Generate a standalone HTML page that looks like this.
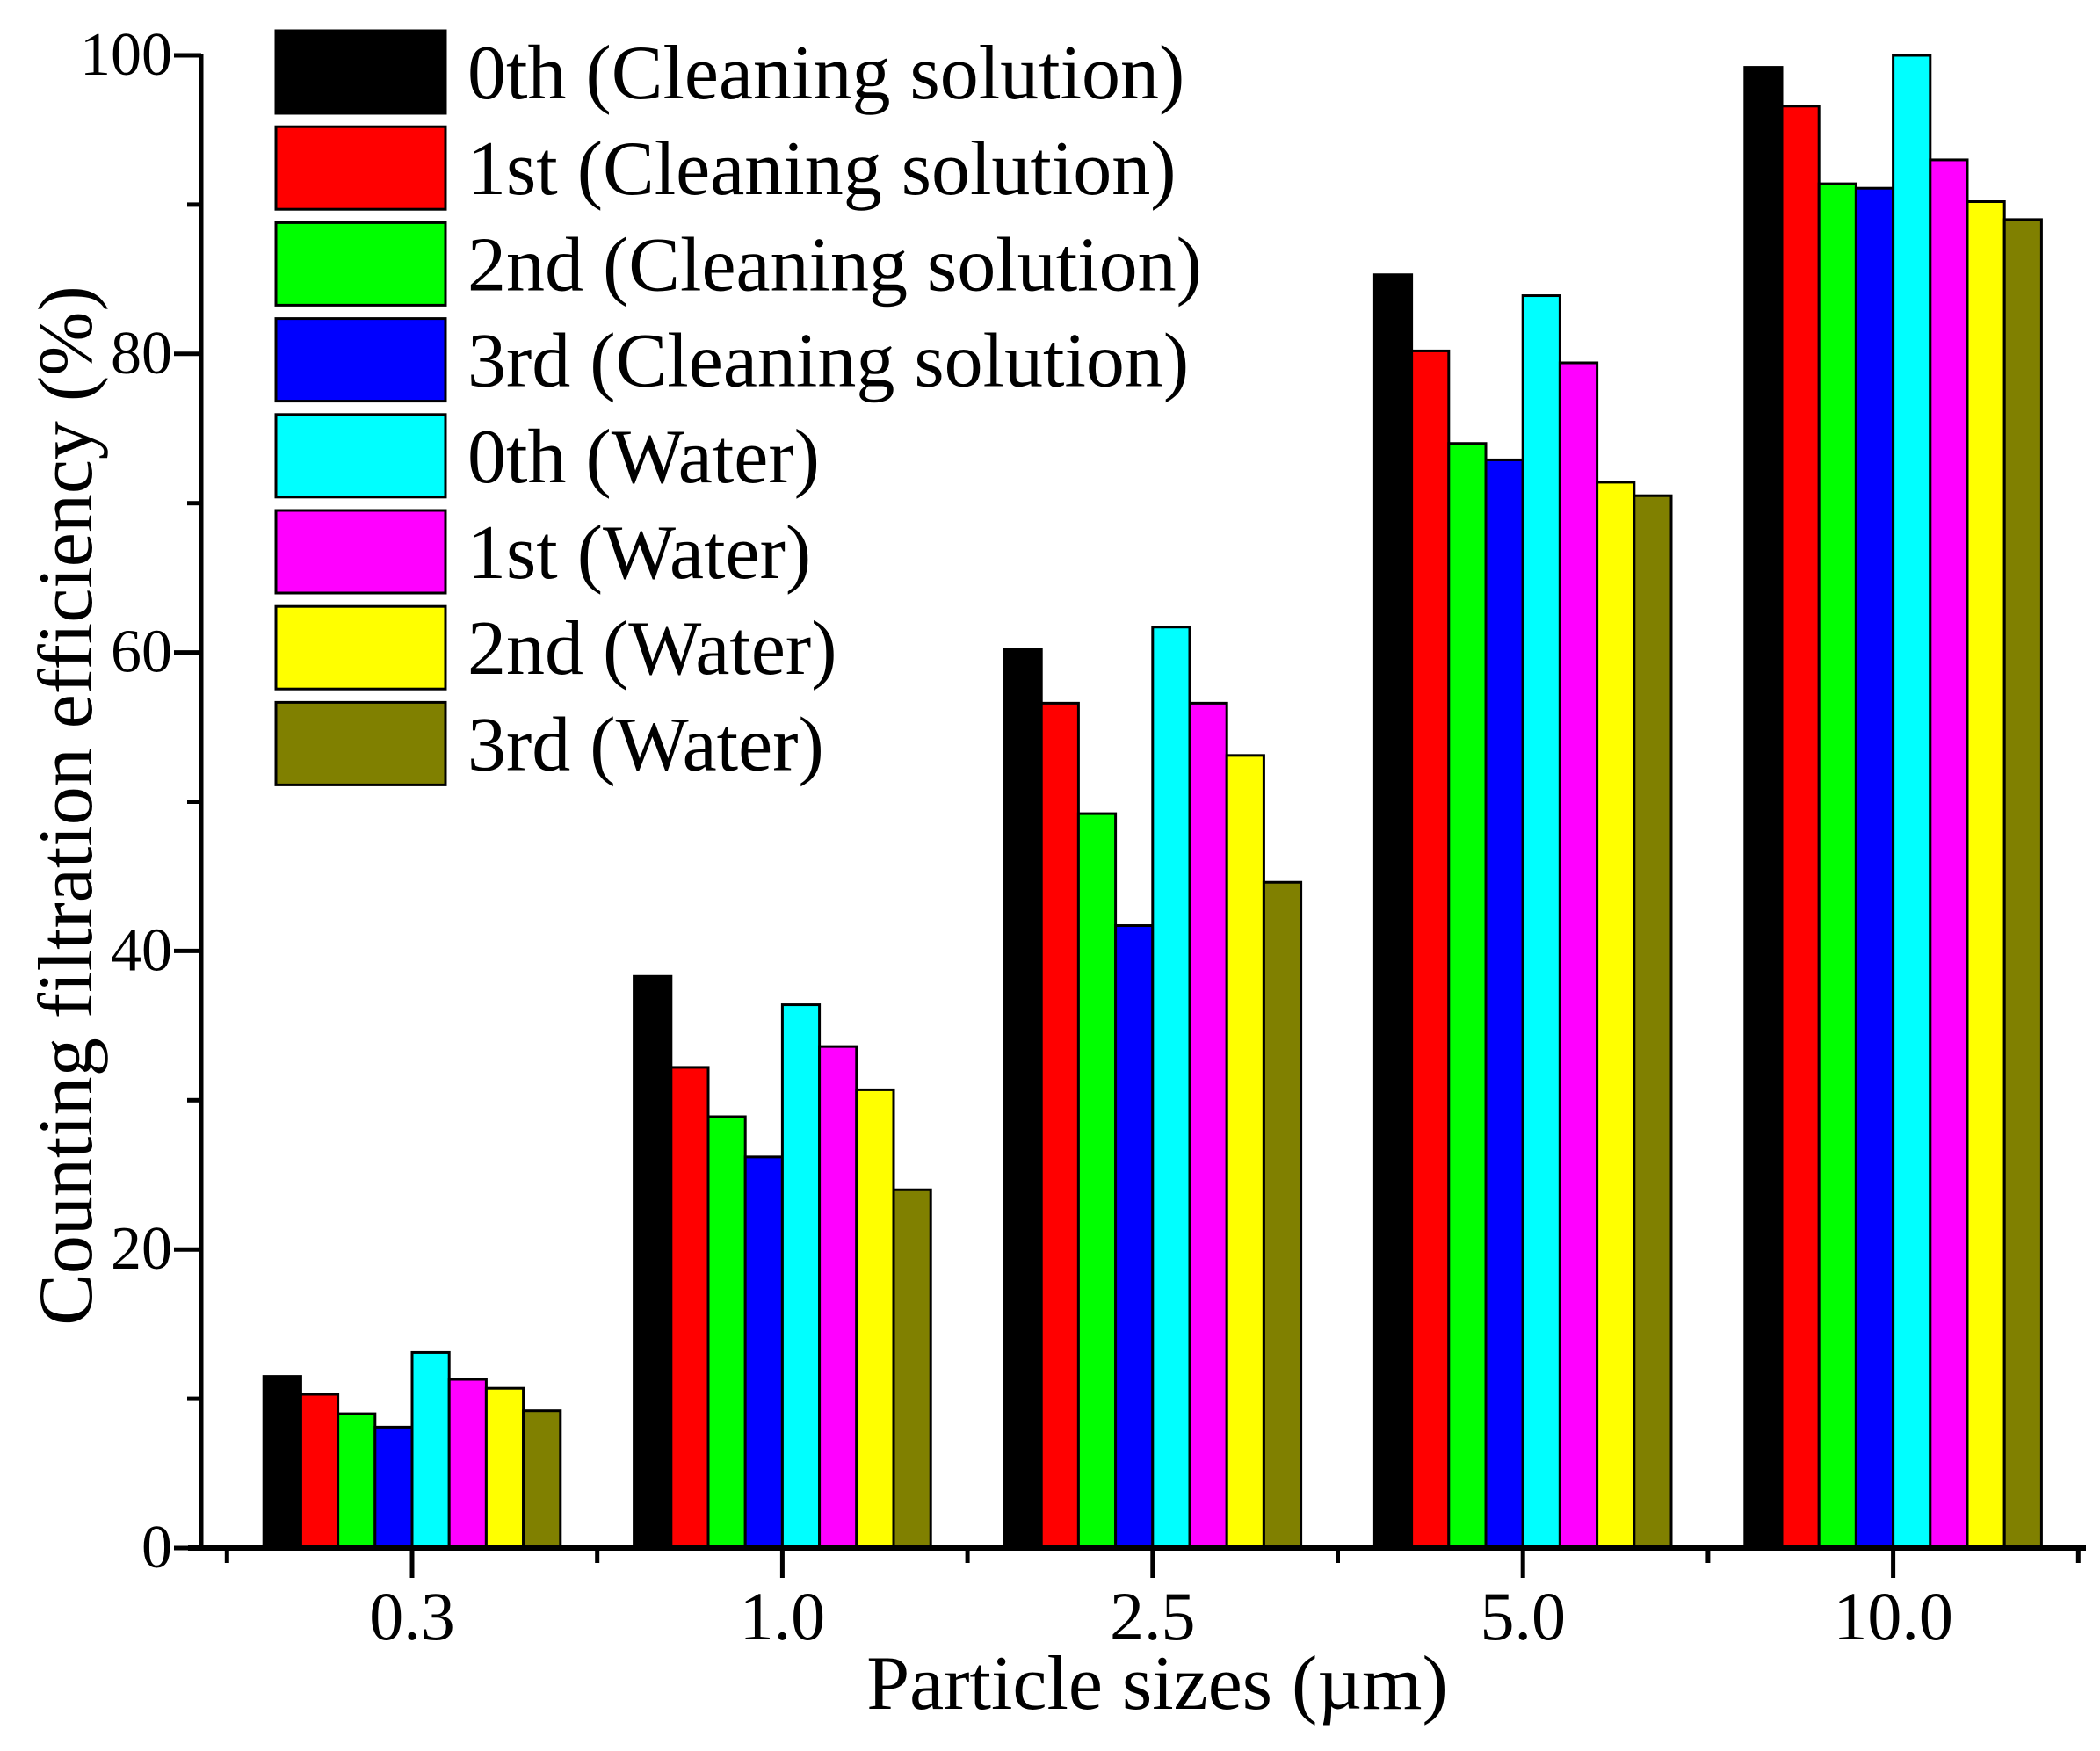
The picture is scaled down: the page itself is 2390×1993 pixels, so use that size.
<!DOCTYPE html>
<html><head><meta charset="utf-8"><style>
html,body{margin:0;padding:0;background:#fff;}
svg{display:block;}
text{font-family:"Liberation Serif",serif;fill:#000;}
</style></head><body>
<svg width="2390" height="1993" viewBox="0 0 2390 1993" xmlns="http://www.w3.org/2000/svg">
<g id="bars" stroke="#000" stroke-width="3"></g>
<g id="axes"></g>
<g id="legend"></g>
<script>
const colors=["#000000","#ff0000","#00ff00","#0000ff","#00ffff","#ff00ff","#ffff00","#808000"];
const data=[[11.5,10.3,9.0,8.1,13.1,11.3,10.7,9.2],[38.3,32.2,28.9,26.2,36.4,33.6,30.7,24.0],[60.2,56.6,49.2,41.7,61.7,56.6,53.1,44.6],[85.3,80.2,74.0,72.9,83.9,79.4,71.4,70.5],[99.2,96.6,91.4,91.1,100,93.0,90.2,89.0]];
const y0=1762,k=(1762-63)/100,c0=469,sp=421.4,bw=42.2;
const NS="http://www.w3.org/2000/svg";
function el(p,t,a,txt){const e=document.createElementNS(NS,t);for(const q in a)e.setAttribute(q,a[q]);if(txt)e.textContent=txt;p.appendChild(e);return e;}
const B=document.getElementById("bars");
data.forEach((g,i)=>{const s=c0+sp*i-4*bw;g.forEach((v,j)=>{const h=v*k;el(B,"rect",{x:s+j*bw,y:y0-h,width:bw,height:h,fill:colors[j]});});});
const A=document.getElementById("axes");
el(A,"line",{x1:229,y1:61,x2:229,y2:1765,stroke:"#000","stroke-width":5});
el(A,"line",{x1:214,y1:1762,x2:2374,y2:1762,stroke:"#000","stroke-width":6});
for(let v=0;v<=100;v+=10){const y=y0-v*k;const maj=v%20==0;el(A,"line",{x1:maj?198:213,y1:y,x2:229,y2:y,stroke:"#000","stroke-width":5});
if(maj)el(A,"text",{x:196,y:y+22,"text-anchor":"end","font-size":70},String(v));}
const labs=["0.3","1.0","2.5","5.0","10.0"];
for(let i=0;i<5;i++){const x=c0+sp*i;el(A,"line",{x1:x,y1:1762,x2:x,y2:1796,stroke:"#000","stroke-width":5});
el(A,"text",{x:x,y:1866,"text-anchor":"middle","font-size":78},labs[i]);}
for(let i=0;i<6;i++){const x=c0-sp/2+sp*i;el(A,"line",{x1:x,y1:1762,x2:x,y2:1779,stroke:"#000","stroke-width":5});}
el(A,"text",{x:1317,y:1945,"text-anchor":"middle","font-size":88},"Particle sizes (\u00b5m)");
el(A,"text",{x:0,y:0,"text-anchor":"middle","font-size":88,transform:"translate(104,917) rotate(-90)"},"Counting filtration efficiency (%)");
const L=document.getElementById("legend");
const names=["0th (Cleaning solution)","1st (Cleaning solution)","2nd (Cleaning solution)","3rd (Cleaning solution)","0th (Water)","1st (Water)","2nd (Water)","3rd (Water)"];
names.forEach((n,i)=>{const cy=82+i*109.2;el(L,"rect",{x:314,y:cy-47,width:193,height:94,fill:colors[i],stroke:"#000","stroke-width":3});
el(L,"text",{x:532,y:cy+30,"font-size":88},n);});
</script>
</svg>
</body></html>
